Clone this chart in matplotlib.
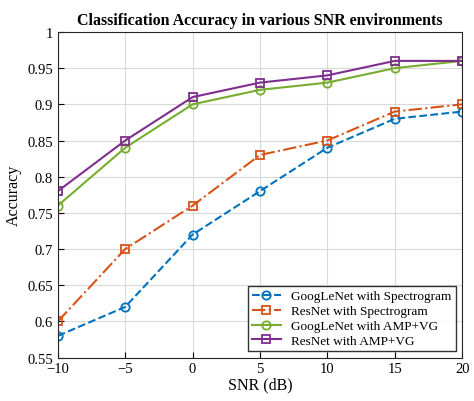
import matplotlib
matplotlib.use("Agg")
import matplotlib.pyplot as plt

plt.rcParams['font.family'] = ['Liberation Serif', 'DejaVu Serif']

snr = [-10, -5, 0, 5, 10, 15, 20]
googlenet_spec = [0.58, 0.62, 0.72, 0.78, 0.84, 0.88, 0.89]
resnet_spec = [0.60, 0.70, 0.76, 0.83, 0.85, 0.89, 0.90]
googlenet_amp = [0.76, 0.84, 0.90, 0.92, 0.93, 0.95, 0.96]
resnet_amp = [0.78, 0.85, 0.91, 0.93, 0.94, 0.96, 0.96]

fig = plt.figure(figsize=(4.74, 4.02), dpi=100)
ax = fig.add_axes([0.122, 0.108, 0.853, 0.81])

ax.plot(snr, googlenet_spec, '--o', color='#0072BD', lw=1.5, ms=6, mfc='none', mew=1.3, label='GoogLeNet with Spectrogram')
ax.plot(snr, resnet_spec, '-.s', color='#D95319', lw=1.5, ms=6, mfc='none', mew=1.3, label='ResNet with Spectrogram')
ax.plot(snr, googlenet_amp, '-o', color='#77AC30', lw=1.5, ms=6, mfc='none', mew=1.3, label='GoogLeNet with AMP+VG')
ax.plot(snr, resnet_amp, '-s', color='#7E2F8E', lw=1.5, ms=6, mfc='none', mew=1.3, label='ResNet with AMP+VG')

ax.set_xlim(-10, 20)
ax.set_ylim(0.55, 1.0)
ax.set_xticks(snr)
ax.set_xticklabels(['\u221210', '\u22125', '0', '5', '10', '15', '20'])
ax.set_yticks([0.55, 0.6, 0.65, 0.7, 0.75, 0.8, 0.85, 0.9, 0.95, 1.0])
ax.set_yticklabels(['0.55', '0.6', '0.65', '0.7', '0.75', '0.8', '0.85', '0.9', '0.95', '1'])
ax.tick_params(labelsize=10.5, direction='in', length=4)
ax.grid(True, color='#d9d9d9', lw=0.8)
ax.set_xlabel('SNR (dB)', fontsize=11.5, labelpad=1)
ax.set_ylabel('Accuracy', fontsize=11.5)
ax.set_title('Classification Accuracy in various SNR environments', fontsize=11.5, fontweight='bold', pad=6)
for s in ax.spines.values():
    s.set_color('#262626')
leg = ax.legend(loc='lower right', fontsize=9.5, fancybox=False, edgecolor='black', borderpad=0.3, handlelength=2.2, labelspacing=0.2)

fig.savefig('out.png', dpi=100)
